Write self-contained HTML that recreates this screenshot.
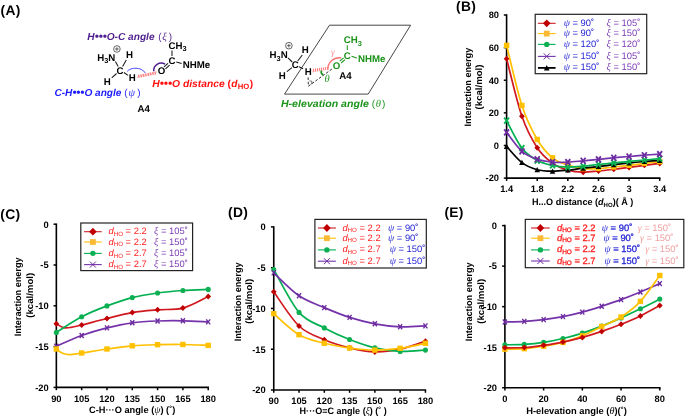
<!DOCTYPE html>
<html><head><meta charset="utf-8"><title>Figure</title>
<style>html,body{margin:0;padding:0;background:#fff}svg{display:block}</style>
</head><body>
<svg width="685" height="418" viewBox="0 0 685 418" text-rendering="geometricPrecision" font-family='"Liberation Sans", Arial, sans-serif' font-weight="bold" font-style="normal" fill="#000">
<rect width="685" height="418" fill="#fff"/>
<text x="0.6" y="14.6" font-size="13.8" letter-spacing="0.3">(A)</text>
<text x="456" y="10.7" font-size="13.8" letter-spacing="0.3">(B)</text>
<text x="0.3" y="219.4" font-size="13.8" letter-spacing="0.3">(C)</text>
<text x="228" y="216.5" font-size="13.8" letter-spacing="0.3">(D)</text>
<text x="444.4" y="216.5" font-size="13.8" letter-spacing="0.3">(E)</text>
<text x="87.3" y="39.8" font-size="10.2" font-style="italic" fill="#4f1f8f" textLength="67.3" lengthAdjust="spacingAndGlyphs">H<tspan font-size="11.5">•••</tspan>O-C angle</text>
<text x="158.3" y="39.8" font-size="10" font-weight="normal" fill="#4f1f8f">(<tspan font-size="10.5" font-style="italic" font-family='"Liberation Serif", "Times New Roman", serif' x="162.3">ξ</tspan><tspan x="168.7">)</tspan></text>
<text x="97.2" y="60.8" font-size="9.7">H<tspan font-size="7.3" dy="2.5">3</tspan><tspan dy="-2.5">N</tspan></text>
<circle cx="116.9" cy="49.0" r="3.3" fill="none" stroke="#222" stroke-width="0.7"/>
<path d="M115.1 49H118.7M116.9 47.2V50.8" stroke="#222" stroke-width="0.7"/>
<text x="126" y="58.3" font-size="9.7">H</text>
<text x="116.6" y="73.8" font-size="9.7">C</text>
<text x="103.7" y="84.7" font-size="9.7">H</text>
<text x="128.8" y="80.6" font-size="9.7">H</text>
<line x1="115.4" y1="61.6" x2="118.2" y2="66.5" stroke="#1a1a1a" stroke-width="1.05" />
<line x1="122.6" y1="66.5" x2="126.3" y2="60" stroke="#1a1a1a" stroke-width="1.05" />
<line x1="116.6" y1="73.5" x2="111.7" y2="77.8" stroke="#1a1a1a" stroke-width="1.05" />
<line x1="123.9" y1="72.5" x2="128" y2="75.4" stroke="#1a1a1a" stroke-width="1.05" />
<path d="M127.2 71.4 C130.5 67.2 141.5 66.6 145.3 73" fill="none" stroke="#3a3aff" stroke-width="0.9"/>
<path d="M137.95 78L138.65 74.8M139.68 77.66L140.38 74.46M141.41 77.32L142.11 74.12M143.14 76.98L143.84 73.78M144.87 76.64L145.57 73.44M146.6 76.3L147.3 73.1M148.33 75.96L149.03 72.76M150.06 75.62L150.76 72.42M151.79 75.28L152.49 72.08M153.52 74.94L154.22 71.74M155.25 74.6L155.95 71.4" stroke="#ff5a5a" stroke-width="0.85" fill="none"/>
<path d="M153.7 71.2 C153.2 65.2 159.5 61.2 165.1 64.2" fill="none" stroke="#4f1f8f" stroke-width="1.5"/>
<text x="157.7" y="74.1" font-size="9.7">O</text>
<text x="168.5" y="64.3" font-size="9.7">C</text>
<text x="168.4" y="48.9" font-size="9.7">CH<tspan font-size="7.3" dy="2.4">3</tspan></text>
<text x="182.7" y="67.7" font-size="9.7">NHMe</text>
<line x1="164" y1="66.9" x2="168" y2="63.4" stroke="#1a1a1a" stroke-width="1.05" />
<line x1="165.5" y1="68.8" x2="169.6" y2="65.2" stroke="#1a1a1a" stroke-width="1.05" />
<line x1="172" y1="50.5" x2="172" y2="56" stroke="#1a1a1a" stroke-width="1.05" />
<line x1="176.3" y1="61.9" x2="181.6" y2="63.6" stroke="#1a1a1a" stroke-width="1.05" />
<text x="152.3" y="86.8" font-size="10.2" font-style="italic" fill="#ff1010" textLength="72.5" lengthAdjust="spacingAndGlyphs">H<tspan font-size="11.5">•••</tspan>O distance</text>
<text x="227.5" y="86.8" font-size="10.2" font-style="italic" fill="#ff1010"><tspan font-style="normal">(</tspan><tspan x="231.2">d</tspan><tspan font-size="7.7" font-style="normal" dy="2.1" x="237.7">HO</tspan><tspan font-style="normal" dy="-2.1" x="249.8">)</tspan></text>
<text x="54.4" y="95.8" font-size="10.2" font-style="italic" fill="#1c1cff" textLength="67.1" lengthAdjust="spacingAndGlyphs">C-H<tspan font-size="11.5">•••</tspan>O angle</text>
<text x="124.2" y="95.8" font-size="10" font-weight="normal" fill="#1c1cff">(<tspan font-size="10.5" font-style="italic" font-family='"Liberation Serif", "Times New Roman", serif' x="128.6">ψ</tspan><tspan x="137.3">)</tspan></text>
<text x="137.5" y="111.5" font-size="9.7">A4</text>
<path d="M329.5 25.2H410.6L368.2 94.1H284.5Z" fill="none" stroke="#333" stroke-width="0.9"/>
<text x="269.6" y="58.1" font-size="9.7">H<tspan font-size="7.3" dy="2.5">3</tspan><tspan dy="-2.5">N</tspan></text>
<circle cx="288.9" cy="45.7" r="3.3" fill="none" stroke="#222" stroke-width="0.7"/>
<path d="M287.1 45.7H290.7M288.9 43.9V47.5" stroke="#222" stroke-width="0.7"/>
<text x="301.8" y="52.5" font-size="9.7">H</text>
<text x="291.7" y="68.3" font-size="9.7">C</text>
<text x="278.7" y="78.9" font-size="9.7">H</text>
<text x="304.7" y="74.8" font-size="9.7">H</text>
<line x1="288" y1="57.9" x2="292.2" y2="62" stroke="#1a1a1a" stroke-width="1.05" />
<line x1="297.7" y1="61" x2="302.3" y2="55" stroke="#1a1a1a" stroke-width="1.05" />
<line x1="292" y1="67.6" x2="286.8" y2="71.7" stroke="#1a1a1a" stroke-width="1.05" />
<line x1="299" y1="66.8" x2="303.1" y2="68.8" stroke="#1a1a1a" stroke-width="1.05" />
<path d="M313.05 72.3L313.75 68.7M315.06 71.94L315.76 68.43M317.08 71.59L317.78 68.16M319.09 71.23L319.79 67.89M321.11 70.87L321.81 67.61M323.12 70.51L323.82 67.34M325.14 70.16L325.84 67.07M327.15 69.8L327.85 66.8" stroke="#ff5a5a" stroke-width="0.85" fill="none"/>
<path d="M308.1 77.4L308.4 86.2L332.5 68.6" fill="none" stroke="#222" stroke-width="0.95" stroke-dasharray="2.6 1.8"/>
<path d="M309.4 80.8L312 81.4L311.4 84.3" fill="none" stroke="#222" stroke-width="0.6"/>
<path d="M327.8 69.8 C327.6 62.5 333.5 56.8 341.2 57.8" fill="none" stroke="#ff7575" stroke-width="1.4"/>
<text x="331" y="54.6" font-size="9.2" font-weight="normal"><tspan fill="#ff8c8c" font-size="9.2" font-weight="normal" font-style="italic" font-family='"Liberation Serif", "Times New Roman", serif'>γ</tspan></text>
<path d="M321.6 70.6 Q320.2 73 323.2 75" fill="none" stroke="#1a931a" stroke-width="1.6"/>
<text x="324.4" y="82.4" font-size="10.5" font-weight="normal"><tspan fill="#1a931a" font-size="10.5" font-weight="normal" font-style="italic" font-family='"Liberation Serif", "Times New Roman", serif'>θ</tspan></text>
<text x="332.7" y="68.5" font-size="9.7" fill="#1a931a">O</text>
<text x="343.7" y="58.5" font-size="9.7" fill="#1a931a">C</text>
<text x="343.7" y="43.1" font-size="9.7" fill="#1a931a">CH<tspan font-size="7.3" dy="2.4">3</tspan></text>
<text x="358" y="62" font-size="9.7" fill="#1a931a">NHMe</text>
<line x1="339.8" y1="61.2" x2="343.6" y2="57.9" stroke="#1a931a" stroke-width="1.05" />
<line x1="341.2" y1="63" x2="345" y2="59.7" stroke="#1a931a" stroke-width="1.05" />
<line x1="347.3" y1="45.2" x2="347.3" y2="50.1" stroke="#1a931a" stroke-width="1.05" />
<line x1="351.5" y1="56.2" x2="356.8" y2="58" stroke="#1a931a" stroke-width="1.05" />
<text x="339.2" y="78.5" font-size="9.7">A4</text>
<text x="280.9" y="107" font-size="10.2" font-style="italic" fill="#1a931a" textLength="88" lengthAdjust="spacingAndGlyphs">H-elevation angle</text>
<text x="371.8" y="107" font-size="10" font-weight="normal" fill="#1a931a">(<tspan font-size="10.5" font-style="italic" font-family='"Liberation Serif", "Times New Roman", serif' x="375.8">θ</tspan><tspan x="381.9">)</tspan></text>
<path d="M506.6 14.25V178.1 H660.45" fill="none" stroke="#000" stroke-width="1.6" stroke-linejoin="miter"/>
<line x1="506.6" y1="178.1" x2="506.6" y2="180.9" stroke="#000" stroke-width="1.5" />
<text x="506.6" y="191.9" font-size="9.3" text-anchor="middle">1.4</text>
<line x1="537.22" y1="178.1" x2="537.22" y2="180.9" stroke="#000" stroke-width="1.5" />
<text x="537.22" y="191.9" font-size="9.3" text-anchor="middle">1.8</text>
<line x1="567.84" y1="178.1" x2="567.84" y2="180.9" stroke="#000" stroke-width="1.5" />
<text x="567.84" y="191.9" font-size="9.3" text-anchor="middle">2.2</text>
<line x1="598.46" y1="178.1" x2="598.46" y2="180.9" stroke="#000" stroke-width="1.5" />
<text x="598.46" y="191.9" font-size="9.3" text-anchor="middle">2.6</text>
<line x1="629.08" y1="178.1" x2="629.08" y2="180.9" stroke="#000" stroke-width="1.5" />
<text x="629.08" y="191.9" font-size="9.3" text-anchor="middle">3</text>
<line x1="659.7" y1="178.1" x2="659.7" y2="180.9" stroke="#000" stroke-width="1.5" />
<text x="659.7" y="191.9" font-size="9.3" text-anchor="middle">3.4</text>
<line x1="503.8" y1="15" x2="506.6" y2="15" stroke="#000" stroke-width="1.5" />
<text x="499" y="18.33" font-size="9.3" text-anchor="end">80</text>
<line x1="503.8" y1="47.62" x2="506.6" y2="47.62" stroke="#000" stroke-width="1.5" />
<text x="499" y="50.95" font-size="9.3" text-anchor="end">60</text>
<line x1="503.8" y1="80.24" x2="506.6" y2="80.24" stroke="#000" stroke-width="1.5" />
<text x="499" y="83.57" font-size="9.3" text-anchor="end">40</text>
<line x1="503.8" y1="112.86" x2="506.6" y2="112.86" stroke="#000" stroke-width="1.5" />
<text x="499" y="116.19" font-size="9.3" text-anchor="end">20</text>
<line x1="503.8" y1="145.48" x2="506.6" y2="145.48" stroke="#000" stroke-width="1.5" />
<text x="499" y="148.81" font-size="9.3" text-anchor="end">0</text>
<line x1="503.8" y1="178.1" x2="506.6" y2="178.1" stroke="#000" stroke-width="1.5" />
<text x="499" y="181.43" font-size="9.3" text-anchor="end">-20</text>
<text x="-39.4" y="0" font-size="9.3" transform="translate(470.5 87.2) rotate(-90)" textLength="78.8" lengthAdjust="spacingAndGlyphs">Interaction energy</text>
<text x="-22.4" y="0" font-size="9.3" transform="translate(482 87) rotate(-90)" textLength="44.8" lengthAdjust="spacingAndGlyphs">(kcal/mol)</text>
<text x="532" y="204.9" font-size="9.3" textLength="101.3" lengthAdjust="spacingAndGlyphs">H...O distance (<tspan font-style="italic">d</tspan><tspan font-size="6.2" dy="1.9">HO</tspan><tspan dy="-1.9">)(</tspan> Å )</text>
<path d="M506.6 58.8C509.15 68.38 516.81 101.48 521.91 116.3C527.01 131.12 532.12 139.88 537.22 147.7C542.32 155.52 547.43 159.47 552.53 163.2C557.63 166.93 562.74 168.6 567.84 170.1C572.94 171.6 578.05 172.05 583.15 172.2C588.25 172.35 593.36 171.48 598.46 171C603.56 170.52 608.67 169.9 613.77 169.3C618.87 168.7 623.98 168.07 629.08 167.4C634.18 166.73 639.29 165.97 644.39 165.3C649.49 164.63 657.15 163.72 659.7 163.4" fill="none" stroke="#d01a20" stroke-width="1.7" stroke-linejoin="round" stroke-linecap="round"/>
<path d="M506.6 55.8L509.5 58.8L506.6 61.8L503.7 58.8Z" fill="#c00000"/>
<path d="M521.91 113.3L524.81 116.3L521.91 119.3L519.01 116.3Z" fill="#c00000"/>
<path d="M537.22 144.7L540.12 147.7L537.22 150.7L534.32 147.7Z" fill="#c00000"/>
<path d="M552.53 160.2L555.43 163.2L552.53 166.2L549.63 163.2Z" fill="#c00000"/>
<path d="M567.84 167.1L570.74 170.1L567.84 173.1L564.94 170.1Z" fill="#c00000"/>
<path d="M583.15 169.2L586.05 172.2L583.15 175.2L580.25 172.2Z" fill="#c00000"/>
<path d="M598.46 168L601.36 171L598.46 174L595.56 171Z" fill="#c00000"/>
<path d="M613.77 166.3L616.67 169.3L613.77 172.3L610.87 169.3Z" fill="#c00000"/>
<path d="M629.08 164.4L631.98 167.4L629.08 170.4L626.18 167.4Z" fill="#c00000"/>
<path d="M644.39 162.3L647.29 165.3L644.39 168.3L641.49 165.3Z" fill="#c00000"/>
<path d="M659.7 160.4L662.6 163.4L659.7 166.4L656.8 163.4Z" fill="#c00000"/>
<path d="M506.6 45.4C509.15 55.42 516.81 89.82 521.91 105.5C527.01 121.18 532.12 130.78 537.22 139.5C542.32 148.22 547.43 153.55 552.53 157.8C557.63 162.05 562.74 163.2 567.84 165C572.94 166.8 578.05 168.02 583.15 168.6C588.25 169.18 593.36 168.77 598.46 168.5C603.56 168.23 608.67 167.53 613.77 167C618.87 166.47 623.98 165.9 629.08 165.3C634.18 164.7 639.29 164.02 644.39 163.4C649.49 162.78 657.15 161.9 659.7 161.6" fill="none" stroke="#ffc000" stroke-width="1.7" stroke-linejoin="round" stroke-linecap="round"/>
<rect x="503.9" y="42.7" width="5.4" height="5.4" fill="#ffc000"/>
<rect x="519.21" y="102.8" width="5.4" height="5.4" fill="#ffc000"/>
<rect x="534.52" y="136.8" width="5.4" height="5.4" fill="#ffc000"/>
<rect x="549.83" y="155.1" width="5.4" height="5.4" fill="#ffc000"/>
<rect x="565.14" y="162.3" width="5.4" height="5.4" fill="#ffc000"/>
<rect x="580.45" y="165.9" width="5.4" height="5.4" fill="#ffc000"/>
<rect x="595.76" y="165.8" width="5.4" height="5.4" fill="#ffc000"/>
<rect x="611.07" y="164.3" width="5.4" height="5.4" fill="#ffc000"/>
<rect x="626.38" y="162.6" width="5.4" height="5.4" fill="#ffc000"/>
<rect x="641.69" y="160.7" width="5.4" height="5.4" fill="#ffc000"/>
<rect x="657" y="158.9" width="5.4" height="5.4" fill="#ffc000"/>
<path d="M506.6 146.4C509.15 149.1 516.81 158.72 521.91 162.6C527.01 166.48 532.12 168.27 537.22 169.7C542.32 171.13 547.43 171.13 552.53 171.2C557.63 171.27 562.74 170.6 567.84 170.1C572.94 169.6 578.05 168.78 583.15 168.2C588.25 167.62 593.36 167.18 598.46 166.6C603.56 166.02 608.67 165.3 613.77 164.7C618.87 164.1 623.98 163.53 629.08 163C634.18 162.47 639.29 161.92 644.39 161.5C649.49 161.08 657.15 160.67 659.7 160.5" fill="none" stroke="#000000" stroke-width="1.7" stroke-linejoin="round" stroke-linecap="round"/>
<path d="M506.6 143.6L509.4 148.92L503.8 148.92Z" fill="#000000"/>
<path d="M521.91 159.8L524.71 165.12L519.11 165.12Z" fill="#000000"/>
<path d="M537.22 166.9L540.02 172.22L534.42 172.22Z" fill="#000000"/>
<path d="M552.53 168.4L555.33 173.72L549.73 173.72Z" fill="#000000"/>
<path d="M567.84 167.3L570.64 172.62L565.04 172.62Z" fill="#000000"/>
<path d="M583.15 165.4L585.95 170.72L580.35 170.72Z" fill="#000000"/>
<path d="M598.46 163.8L601.26 169.12L595.66 169.12Z" fill="#000000"/>
<path d="M613.77 161.9L616.57 167.22L610.97 167.22Z" fill="#000000"/>
<path d="M629.08 160.2L631.88 165.52L626.28 165.52Z" fill="#000000"/>
<path d="M644.39 158.7L647.19 164.02L641.59 164.02Z" fill="#000000"/>
<path d="M659.7 157.7L662.5 163.02L656.9 163.02Z" fill="#000000"/>
<path d="M506.6 120.6C509.15 125.18 516.81 141.43 521.91 148.1C527.01 154.77 532.12 157.72 537.22 160.6C542.32 163.48 547.43 164.32 552.53 165.4C557.63 166.48 562.74 166.97 567.84 167.1C572.94 167.23 578.05 166.63 583.15 166.2C588.25 165.77 593.36 165.05 598.46 164.5C603.56 163.95 608.67 163.43 613.77 162.9C618.87 162.37 623.98 161.78 629.08 161.3C634.18 160.82 639.29 160.45 644.39 160C649.49 159.55 657.15 158.83 659.7 158.6" fill="none" stroke="#00b050" stroke-width="1.7" stroke-linejoin="round" stroke-linecap="round"/>
<path d="M504.2 117.6L509 123.6M504.2 123.6L509 117.6" stroke="#0cb052" stroke-width="1.8" fill="none"/>
<path d="M519.51 145.1L524.31 151.1M519.51 151.1L524.31 145.1" stroke="#0cb052" stroke-width="1.8" fill="none"/>
<path d="M534.82 157.6L539.62 163.6M534.82 163.6L539.62 157.6" stroke="#0cb052" stroke-width="1.8" fill="none"/>
<path d="M550.13 162.4L554.93 168.4M550.13 168.4L554.93 162.4" stroke="#0cb052" stroke-width="1.8" fill="none"/>
<path d="M565.44 164.1L570.24 170.1M565.44 170.1L570.24 164.1" stroke="#0cb052" stroke-width="1.8" fill="none"/>
<path d="M580.75 163.2L585.55 169.2M580.75 169.2L585.55 163.2" stroke="#0cb052" stroke-width="1.8" fill="none"/>
<path d="M596.06 161.5L600.86 167.5M596.06 167.5L600.86 161.5" stroke="#0cb052" stroke-width="1.8" fill="none"/>
<path d="M611.37 159.9L616.17 165.9M611.37 165.9L616.17 159.9" stroke="#0cb052" stroke-width="1.8" fill="none"/>
<path d="M626.68 158.3L631.48 164.3M626.68 164.3L631.48 158.3" stroke="#0cb052" stroke-width="1.8" fill="none"/>
<path d="M641.99 157L646.79 163M641.99 163L646.79 157" stroke="#0cb052" stroke-width="1.8" fill="none"/>
<path d="M657.3 155.6L662.1 161.6M657.3 161.6L662.1 155.6" stroke="#0cb052" stroke-width="1.8" fill="none"/>
<path d="M506.6 132.4C509.15 135.57 516.81 146.92 521.91 151.4C527.01 155.88 532.12 157.52 537.22 159.3C542.32 161.08 547.43 161.63 552.53 162.1C557.63 162.57 562.74 162.32 567.84 162.1C572.94 161.88 578.05 161.25 583.15 160.8C588.25 160.35 593.36 159.9 598.46 159.4C603.56 158.9 608.67 158.28 613.77 157.8C618.87 157.32 623.98 156.93 629.08 156.5C634.18 156.07 639.29 155.6 644.39 155.2C649.49 154.8 657.15 154.28 659.7 154.1" fill="none" stroke="#7533ab" stroke-width="1.7" stroke-linejoin="round" stroke-linecap="round"/>
<path d="M504.2 129.4L509 135.4M504.2 135.4L509 129.4" stroke="#6c2ca0" stroke-width="1.8" fill="none"/>
<path d="M519.51 148.4L524.31 154.4M519.51 154.4L524.31 148.4" stroke="#6c2ca0" stroke-width="1.8" fill="none"/>
<path d="M534.82 156.3L539.62 162.3M534.82 162.3L539.62 156.3" stroke="#6c2ca0" stroke-width="1.8" fill="none"/>
<path d="M550.13 159.1L554.93 165.1M550.13 165.1L554.93 159.1" stroke="#6c2ca0" stroke-width="1.8" fill="none"/>
<path d="M565.44 159.1L570.24 165.1M565.44 165.1L570.24 159.1" stroke="#6c2ca0" stroke-width="1.8" fill="none"/>
<path d="M580.75 157.8L585.55 163.8M580.75 163.8L585.55 157.8" stroke="#6c2ca0" stroke-width="1.8" fill="none"/>
<path d="M596.06 156.4L600.86 162.4M596.06 162.4L600.86 156.4" stroke="#6c2ca0" stroke-width="1.8" fill="none"/>
<path d="M611.37 154.8L616.17 160.8M611.37 160.8L616.17 154.8" stroke="#6c2ca0" stroke-width="1.8" fill="none"/>
<path d="M626.68 153.5L631.48 159.5M626.68 159.5L631.48 153.5" stroke="#6c2ca0" stroke-width="1.8" fill="none"/>
<path d="M641.99 152.2L646.79 158.2M641.99 158.2L646.79 152.2" stroke="#6c2ca0" stroke-width="1.8" fill="none"/>
<path d="M657.3 151.1L662.1 157.1M657.3 157.1L662.1 151.1" stroke="#6c2ca0" stroke-width="1.8" fill="none"/>
<rect x="535.2" y="14.3" width="111.5" height="59.4" fill="#fff" stroke="#222" stroke-width="1.2"/>
<line x1="537.9" y1="23.3" x2="555.6" y2="23.3" stroke="#d01a20" stroke-width="1.1" />
<path d="M546.75 19.4L550.55 23.3L546.75 27.2L542.95 23.3Z" fill="#c00000"/>
<text x="563.7" y="25.8" font-size="9.4" font-weight="normal" fill="#2323d6"><tspan fill="#2323d6" font-size="10" font-weight="normal" font-style="italic" font-family='"Liberation Serif", "Times New Roman", serif'>ψ</tspan> = 90<tspan font-weight="bold">˚</tspan></text>
<text x="606.5" y="25.8" font-size="9.4" font-weight="normal" fill="#7d3cb5"><tspan fill="#7d3cb5" font-size="10" font-weight="normal" font-style="italic" font-family='"Liberation Serif", "Times New Roman", serif'>ξ</tspan> = 105<tspan font-weight="bold">˚</tspan></text>
<line x1="537.9" y1="33.6" x2="555.6" y2="33.6" stroke="#ffc000" stroke-width="1.1" />
<rect x="543.85" y="30.7" width="5.8" height="5.8" fill="#fbba35"/>
<text x="563.7" y="36.1" font-size="9.4" font-weight="normal" fill="#2323d6"><tspan fill="#2323d6" font-size="10" font-weight="normal" font-style="italic" font-family='"Liberation Serif", "Times New Roman", serif'>ψ</tspan> = 90<tspan font-weight="bold">˚</tspan></text>
<text x="606.5" y="36.1" font-size="9.4" font-weight="normal" fill="#7d3cb5"><tspan fill="#7d3cb5" font-size="10" font-weight="normal" font-style="italic" font-family='"Liberation Serif", "Times New Roman", serif'>ξ</tspan> = 150<tspan font-weight="bold">˚</tspan></text>
<line x1="537.9" y1="44.4" x2="555.6" y2="44.4" stroke="#00b050" stroke-width="1.1" />
<circle cx="546.75" cy="44.4" r="2.7" fill="#0cb052"/>
<text x="563.7" y="46.9" font-size="9.4" font-weight="normal" fill="#2323d6"><tspan fill="#2323d6" font-size="10" font-weight="normal" font-style="italic" font-family='"Liberation Serif", "Times New Roman", serif'>ψ</tspan> = 120<tspan font-weight="bold">˚</tspan></text>
<text x="606.5" y="46.9" font-size="9.4" font-weight="normal" fill="#7d3cb5"><tspan fill="#7d3cb5" font-size="10" font-weight="normal" font-style="italic" font-family='"Liberation Serif", "Times New Roman", serif'>ξ</tspan> = 120<tspan font-weight="bold">˚</tspan></text>
<line x1="537.9" y1="56.4" x2="555.6" y2="56.4" stroke="#7533ab" stroke-width="1.1" />
<path d="M543.75 53.4L549.75 59.4M543.75 59.4L549.75 53.4" stroke="#6c2ca0" stroke-width="1" fill="none"/>
<text x="563.7" y="58.9" font-size="9.4" font-weight="normal" fill="#2323d6"><tspan fill="#2323d6" font-size="10" font-weight="normal" font-style="italic" font-family='"Liberation Serif", "Times New Roman", serif'>ψ</tspan> = 150<tspan font-weight="bold">˚</tspan></text>
<text x="606.5" y="58.9" font-size="9.4" font-weight="normal" fill="#7d3cb5"><tspan fill="#7d3cb5" font-size="10" font-weight="normal" font-style="italic" font-family='"Liberation Serif", "Times New Roman", serif'>ξ</tspan> = 105<tspan font-weight="bold">˚</tspan></text>
<line x1="537.9" y1="67.9" x2="555.6" y2="67.9" stroke="#000000" stroke-width="1.8" />
<path d="M546.75 65.1L549.55 70.42L543.95 70.42Z" fill="#000000"/>
<text x="563.7" y="70.4" font-size="9.4" font-weight="normal" fill="#2323d6"><tspan fill="#2323d6" font-size="10" font-weight="normal" font-style="italic" font-family='"Liberation Serif", "Times New Roman", serif'>ψ</tspan> = 150<tspan font-weight="bold">˚</tspan></text>
<text x="606.5" y="70.4" font-size="9.4" font-weight="normal" fill="#7d3cb5"><tspan fill="#7d3cb5" font-size="10" font-weight="normal" font-style="italic" font-family='"Liberation Serif", "Times New Roman", serif'>ξ</tspan> = 150<tspan font-weight="bold">˚</tspan></text>
<path d="M56.35 223.45V387.4 H208.95" fill="none" stroke="#000" stroke-width="1.6" stroke-linejoin="miter"/>
<line x1="56.35" y1="387.4" x2="56.35" y2="390.2" stroke="#000" stroke-width="1.5" />
<text x="56.35" y="401.6" font-size="9.3" text-anchor="middle">90</text>
<line x1="81.66" y1="387.4" x2="81.66" y2="390.2" stroke="#000" stroke-width="1.5" />
<text x="81.66" y="401.6" font-size="9.3" text-anchor="middle">105</text>
<line x1="106.97" y1="387.4" x2="106.97" y2="390.2" stroke="#000" stroke-width="1.5" />
<text x="106.97" y="401.6" font-size="9.3" text-anchor="middle">120</text>
<line x1="132.28" y1="387.4" x2="132.28" y2="390.2" stroke="#000" stroke-width="1.5" />
<text x="132.28" y="401.6" font-size="9.3" text-anchor="middle">135</text>
<line x1="157.59" y1="387.4" x2="157.59" y2="390.2" stroke="#000" stroke-width="1.5" />
<text x="157.59" y="401.6" font-size="9.3" text-anchor="middle">150</text>
<line x1="182.9" y1="387.4" x2="182.9" y2="390.2" stroke="#000" stroke-width="1.5" />
<text x="182.9" y="401.6" font-size="9.3" text-anchor="middle">165</text>
<line x1="208.21" y1="387.4" x2="208.21" y2="390.2" stroke="#000" stroke-width="1.5" />
<text x="208.21" y="401.6" font-size="9.3" text-anchor="middle">180</text>
<line x1="53.55" y1="224.2" x2="56.35" y2="224.2" stroke="#000" stroke-width="1.5" />
<text x="48.6" y="227.53" font-size="9.3" text-anchor="end">0</text>
<line x1="53.55" y1="265" x2="56.35" y2="265" stroke="#000" stroke-width="1.5" />
<text x="48.6" y="268.33" font-size="9.3" text-anchor="end">-5</text>
<line x1="53.55" y1="305.8" x2="56.35" y2="305.8" stroke="#000" stroke-width="1.5" />
<text x="48.6" y="309.13" font-size="9.3" text-anchor="end">-10</text>
<line x1="53.55" y1="346.6" x2="56.35" y2="346.6" stroke="#000" stroke-width="1.5" />
<text x="48.6" y="349.93" font-size="9.3" text-anchor="end">-15</text>
<line x1="53.55" y1="387.4" x2="56.35" y2="387.4" stroke="#000" stroke-width="1.5" />
<text x="48.6" y="390.73" font-size="9.3" text-anchor="end">-20</text>
<text x="-39.4" y="0" font-size="9.3" transform="translate(20.5 296.9) rotate(-90)" textLength="78.8" lengthAdjust="spacingAndGlyphs">Interaction energy</text>
<text x="-22.4" y="0" font-size="9.3" transform="translate(32.5 295.3) rotate(-90)" textLength="44.8" lengthAdjust="spacingAndGlyphs">(kcal/mol)</text>
<text x="89" y="412.8" font-size="9.3" textLength="86.3" lengthAdjust="spacingAndGlyphs">C-H···O angle (<tspan fill="#000" font-size="10" font-weight="normal" font-style="italic" font-family='"Liberation Serif", "Times New Roman", serif'>ψ</tspan>) (˚)</text>
<path d="M56.35 323.8C57.54 324.43 61.06 327 63.5 327.6C65.94 328.2 67.97 327.83 71 327.4C74.03 326.97 75.66 326.48 81.66 325C87.66 323.52 98.53 320.57 106.97 318.5C115.41 316.43 123.84 314.05 132.28 312.6C140.72 311.15 149.15 310.55 157.59 309.8C166.03 309.05 174.46 310.32 182.9 308.1C191.34 305.88 203.99 298.43 208.21 296.5" fill="none" stroke="#d01a20" stroke-width="1.7" stroke-linejoin="round" stroke-linecap="round"/>
<path d="M56.35 320.8L59.25 323.8L56.35 326.8L53.45 323.8Z" fill="#c00000"/>
<path d="M81.66 322L84.56 325L81.66 328L78.76 325Z" fill="#c00000"/>
<path d="M106.97 315.5L109.87 318.5L106.97 321.5L104.07 318.5Z" fill="#c00000"/>
<path d="M132.28 309.6L135.18 312.6L132.28 315.6L129.38 312.6Z" fill="#c00000"/>
<path d="M157.59 306.8L160.49 309.8L157.59 312.8L154.69 309.8Z" fill="#c00000"/>
<path d="M182.9 305.1L185.8 308.1L182.9 311.1L180 308.1Z" fill="#c00000"/>
<path d="M208.21 293.5L211.11 296.5L208.21 299.5L205.31 296.5Z" fill="#c00000"/>
<path d="M56.35 332.4C60.57 329.8 73.22 321.22 81.66 316.8C90.1 312.38 98.53 309.1 106.97 305.9C115.41 302.7 123.84 299.75 132.28 297.6C140.72 295.45 149.15 294.18 157.59 293C166.03 291.82 174.46 291.1 182.9 290.5C191.34 289.9 203.99 289.58 208.21 289.4" fill="none" stroke="#00b050" stroke-width="1.7" stroke-linejoin="round" stroke-linecap="round"/>
<circle cx="56.35" cy="332.4" r="2.55" fill="#0cb052"/>
<circle cx="81.66" cy="316.8" r="2.55" fill="#0cb052"/>
<circle cx="106.97" cy="305.9" r="2.55" fill="#0cb052"/>
<circle cx="132.28" cy="297.6" r="2.55" fill="#0cb052"/>
<circle cx="157.59" cy="293" r="2.55" fill="#0cb052"/>
<circle cx="182.9" cy="290.5" r="2.55" fill="#0cb052"/>
<circle cx="208.21" cy="289.4" r="2.55" fill="#0cb052"/>
<path d="M56.35 346.2C60.57 344.42 73.22 338.55 81.66 335.5C90.1 332.45 98.53 330.02 106.97 327.9C115.41 325.78 123.84 323.95 132.28 322.8C140.72 321.65 149.15 321.33 157.59 321C166.03 320.67 174.46 320.65 182.9 320.8C191.34 320.95 203.99 321.72 208.21 321.9" fill="none" stroke="#7533ab" stroke-width="1.7" stroke-linejoin="round" stroke-linecap="round"/>
<path d="M54.35 343.7L58.35 348.7M54.35 348.7L58.35 343.7" stroke="#6c2ca0" stroke-width="1.4" fill="none"/>
<path d="M79.66 333L83.66 338M79.66 338L83.66 333" stroke="#6c2ca0" stroke-width="1.4" fill="none"/>
<path d="M104.97 325.4L108.97 330.4M104.97 330.4L108.97 325.4" stroke="#6c2ca0" stroke-width="1.4" fill="none"/>
<path d="M130.28 320.3L134.28 325.3M130.28 325.3L134.28 320.3" stroke="#6c2ca0" stroke-width="1.4" fill="none"/>
<path d="M155.59 318.5L159.59 323.5M155.59 323.5L159.59 318.5" stroke="#6c2ca0" stroke-width="1.4" fill="none"/>
<path d="M180.9 318.3L184.9 323.3M180.9 323.3L184.9 318.3" stroke="#6c2ca0" stroke-width="1.4" fill="none"/>
<path d="M206.21 319.4L210.21 324.4M206.21 324.4L210.21 319.4" stroke="#6c2ca0" stroke-width="1.4" fill="none"/>
<path d="M56.35 349C57.38 349.72 60.23 352.37 62.5 353.3C64.78 354.23 66.81 354.65 70 354.6C73.19 354.55 75.5 353.93 81.66 353C87.82 352.07 98.53 350.2 106.97 349C115.41 347.8 123.84 346.52 132.28 345.8C140.72 345.08 149.15 344.92 157.59 344.7C166.03 344.48 174.46 344.38 182.9 344.5C191.34 344.62 203.99 345.25 208.21 345.4" fill="none" stroke="#ffc000" stroke-width="1.7" stroke-linejoin="round" stroke-linecap="round"/>
<rect x="53.65" y="346.3" width="5.4" height="5.4" fill="#ffc000"/>
<rect x="78.96" y="350.3" width="5.4" height="5.4" fill="#ffc000"/>
<rect x="104.27" y="346.3" width="5.4" height="5.4" fill="#ffc000"/>
<rect x="129.58" y="343.1" width="5.4" height="5.4" fill="#ffc000"/>
<rect x="154.89" y="342" width="5.4" height="5.4" fill="#ffc000"/>
<rect x="180.2" y="341.8" width="5.4" height="5.4" fill="#ffc000"/>
<rect x="205.51" y="342.7" width="5.4" height="5.4" fill="#ffc000"/>
<rect x="80.8" y="223" width="111.8" height="47.6" fill="#fff" stroke="#222" stroke-width="1.2"/>
<line x1="84.1" y1="231.7" x2="101.7" y2="231.7" stroke="#d01a20" stroke-width="1.1" />
<path d="M92.9 227.8L96.7 231.7L92.9 235.6L89.1 231.7Z" fill="#c00000"/>
<text x="108.5" y="234.2" font-size="9.4" font-weight="normal" fill="#ff2020"><tspan font-style="italic">d</tspan><tspan font-size="6.2" dy="1.6">HO</tspan><tspan dy="-1.6"> = 2.2</tspan></text>
<text x="154" y="234.2" font-size="9.4" font-weight="normal" fill="#7d3cb5"><tspan fill="#7d3cb5" font-size="10" font-weight="normal" font-style="italic" font-family='"Liberation Serif", "Times New Roman", serif'>ξ</tspan> = 105<tspan font-weight="bold">˚</tspan></text>
<line x1="84.1" y1="242" x2="101.7" y2="242" stroke="#ffc000" stroke-width="1.1" />
<rect x="90" y="239.1" width="5.8" height="5.8" fill="#fbba35"/>
<text x="108.5" y="244.5" font-size="9.4" font-weight="normal" fill="#ff2020"><tspan font-style="italic">d</tspan><tspan font-size="6.2" dy="1.6">HO</tspan><tspan dy="-1.6"> = 2.2</tspan></text>
<text x="154" y="244.5" font-size="9.4" font-weight="normal" fill="#7d3cb5"><tspan fill="#7d3cb5" font-size="10" font-weight="normal" font-style="italic" font-family='"Liberation Serif", "Times New Roman", serif'>ξ</tspan> = 150<tspan font-weight="bold">˚</tspan></text>
<line x1="84.1" y1="253.4" x2="101.7" y2="253.4" stroke="#00b050" stroke-width="1.1" />
<circle cx="92.9" cy="253.4" r="2.7" fill="#0cb052"/>
<text x="108.5" y="255.9" font-size="9.4" font-weight="normal" fill="#ff2020"><tspan font-style="italic">d</tspan><tspan font-size="6.2" dy="1.6">HO</tspan><tspan dy="-1.6"> = 2.7</tspan></text>
<text x="154" y="255.9" font-size="9.4" font-weight="normal" fill="#7d3cb5"><tspan fill="#7d3cb5" font-size="10" font-weight="normal" font-style="italic" font-family='"Liberation Serif", "Times New Roman", serif'>ξ</tspan> = 105<tspan font-weight="bold">˚</tspan></text>
<line x1="84.1" y1="264.6" x2="101.7" y2="264.6" stroke="#7533ab" stroke-width="1.1" />
<path d="M89.9 261.6L95.9 267.6M89.9 267.6L95.9 261.6" stroke="#6c2ca0" stroke-width="1" fill="none"/>
<text x="108.5" y="267.1" font-size="9.4" font-weight="normal" fill="#ff2020"><tspan font-style="italic">d</tspan><tspan font-size="6.2" dy="1.6">HO</tspan><tspan dy="-1.6"> = 2.7</tspan></text>
<text x="154" y="267.1" font-size="9.4" font-weight="normal" fill="#7d3cb5"><tspan fill="#7d3cb5" font-size="10" font-weight="normal" font-style="italic" font-family='"Liberation Serif", "Times New Roman", serif'>ξ</tspan> = 150<tspan font-weight="bold">˚</tspan></text>
<path d="M273.75 226.15V390 H426.15" fill="none" stroke="#000" stroke-width="1.6" stroke-linejoin="miter"/>
<line x1="273.75" y1="390" x2="273.75" y2="392.8" stroke="#000" stroke-width="1.5" />
<text x="273.75" y="403.6" font-size="9.3" text-anchor="middle">90</text>
<line x1="299.03" y1="390" x2="299.03" y2="392.8" stroke="#000" stroke-width="1.5" />
<text x="299.03" y="403.6" font-size="9.3" text-anchor="middle">105</text>
<line x1="324.31" y1="390" x2="324.31" y2="392.8" stroke="#000" stroke-width="1.5" />
<text x="324.31" y="403.6" font-size="9.3" text-anchor="middle">120</text>
<line x1="349.59" y1="390" x2="349.59" y2="392.8" stroke="#000" stroke-width="1.5" />
<text x="349.59" y="403.6" font-size="9.3" text-anchor="middle">135</text>
<line x1="374.87" y1="390" x2="374.87" y2="392.8" stroke="#000" stroke-width="1.5" />
<text x="374.87" y="403.6" font-size="9.3" text-anchor="middle">150</text>
<line x1="400.15" y1="390" x2="400.15" y2="392.8" stroke="#000" stroke-width="1.5" />
<text x="400.15" y="403.6" font-size="9.3" text-anchor="middle">165</text>
<line x1="425.43" y1="390" x2="425.43" y2="392.8" stroke="#000" stroke-width="1.5" />
<text x="425.43" y="403.6" font-size="9.3" text-anchor="middle">180</text>
<line x1="270.95" y1="226.9" x2="273.75" y2="226.9" stroke="#000" stroke-width="1.5" />
<text x="265.6" y="230.23" font-size="9.3" text-anchor="end">0</text>
<line x1="270.95" y1="267.68" x2="273.75" y2="267.68" stroke="#000" stroke-width="1.5" />
<text x="265.6" y="271" font-size="9.3" text-anchor="end">-5</text>
<line x1="270.95" y1="308.45" x2="273.75" y2="308.45" stroke="#000" stroke-width="1.5" />
<text x="265.6" y="311.78" font-size="9.3" text-anchor="end">-10</text>
<line x1="270.95" y1="349.23" x2="273.75" y2="349.23" stroke="#000" stroke-width="1.5" />
<text x="265.6" y="352.55" font-size="9.3" text-anchor="end">-15</text>
<line x1="270.95" y1="390" x2="273.75" y2="390" stroke="#000" stroke-width="1.5" />
<text x="265.6" y="393.33" font-size="9.3" text-anchor="end">-20</text>
<text x="-39.4" y="0" font-size="9.3" transform="translate(240.5 301.9) rotate(-90)" textLength="78.8" lengthAdjust="spacingAndGlyphs">Interaction energy</text>
<text x="-22.4" y="0" font-size="9.3" transform="translate(252 301.3) rotate(-90)" textLength="44.8" lengthAdjust="spacingAndGlyphs">(kcal/mol)</text>
<text x="299.6" y="413.9" font-size="9.3" textLength="87.3" lengthAdjust="spacingAndGlyphs">H···O=C angle (<tspan fill="#000" font-size="10" font-weight="normal" font-style="italic" font-family='"Liberation Serif", "Times New Roman", serif'>ξ</tspan>) (˚ )</text>
<path d="M273.75 291.8C277.96 297.5 290.6 318.02 299.03 326C307.46 333.98 315.88 336.07 324.31 339.7C332.74 343.33 341.16 345.77 349.59 347.8C358.02 349.83 366.44 351.67 374.87 351.9C383.3 352.13 391.72 350.98 400.15 349.2C408.58 347.42 421.22 342.53 425.43 341.2" fill="none" stroke="#d01a20" stroke-width="1.7" stroke-linejoin="round" stroke-linecap="round"/>
<path d="M273.75 288.8L276.65 291.8L273.75 294.8L270.85 291.8Z" fill="#c00000"/>
<path d="M299.03 323L301.93 326L299.03 329L296.13 326Z" fill="#c00000"/>
<path d="M324.31 336.7L327.21 339.7L324.31 342.7L321.41 339.7Z" fill="#c00000"/>
<path d="M349.59 344.8L352.49 347.8L349.59 350.8L346.69 347.8Z" fill="#c00000"/>
<path d="M374.87 348.9L377.77 351.9L374.87 354.9L371.97 351.9Z" fill="#c00000"/>
<path d="M400.15 346.2L403.05 349.2L400.15 352.2L397.25 349.2Z" fill="#c00000"/>
<path d="M425.43 338.2L428.33 341.2L425.43 344.2L422.53 341.2Z" fill="#c00000"/>
<path d="M273.75 269.5C277.96 276.65 290.6 302.67 299.03 312.4C307.46 322.13 315.88 323.38 324.31 327.9C332.74 332.42 341.16 336.18 349.59 339.5C358.02 342.82 366.44 345.82 374.87 347.8C383.3 349.78 391.72 351.02 400.15 351.4C408.58 351.78 421.22 350.32 425.43 350.1" fill="none" stroke="#00b050" stroke-width="1.7" stroke-linejoin="round" stroke-linecap="round"/>
<circle cx="273.75" cy="269.5" r="2.55" fill="#0cb052"/>
<circle cx="299.03" cy="312.4" r="2.55" fill="#0cb052"/>
<circle cx="324.31" cy="327.9" r="2.55" fill="#0cb052"/>
<circle cx="349.59" cy="339.5" r="2.55" fill="#0cb052"/>
<circle cx="374.87" cy="347.8" r="2.55" fill="#0cb052"/>
<circle cx="400.15" cy="351.4" r="2.55" fill="#0cb052"/>
<circle cx="425.43" cy="350.1" r="2.55" fill="#0cb052"/>
<path d="M273.75 272.9C277.96 276.72 290.6 290.02 299.03 295.8C307.46 301.58 315.88 304 324.31 307.6C332.74 311.2 341.16 314.7 349.59 317.4C358.02 320.1 366.44 322.23 374.87 323.8C383.3 325.37 391.72 326.45 400.15 326.8C408.58 327.15 421.22 326.05 425.43 325.9" fill="none" stroke="#7533ab" stroke-width="1.7" stroke-linejoin="round" stroke-linecap="round"/>
<path d="M271.75 270.4L275.75 275.4M271.75 275.4L275.75 270.4" stroke="#6c2ca0" stroke-width="1.4" fill="none"/>
<path d="M297.03 293.3L301.03 298.3M297.03 298.3L301.03 293.3" stroke="#6c2ca0" stroke-width="1.4" fill="none"/>
<path d="M322.31 305.1L326.31 310.1M322.31 310.1L326.31 305.1" stroke="#6c2ca0" stroke-width="1.4" fill="none"/>
<path d="M347.59 314.9L351.59 319.9M347.59 319.9L351.59 314.9" stroke="#6c2ca0" stroke-width="1.4" fill="none"/>
<path d="M372.87 321.3L376.87 326.3M372.87 326.3L376.87 321.3" stroke="#6c2ca0" stroke-width="1.4" fill="none"/>
<path d="M398.15 324.3L402.15 329.3M398.15 329.3L402.15 324.3" stroke="#6c2ca0" stroke-width="1.4" fill="none"/>
<path d="M423.43 323.4L427.43 328.4M423.43 328.4L427.43 323.4" stroke="#6c2ca0" stroke-width="1.4" fill="none"/>
<path d="M273.75 313.7C277.96 317.2 290.6 329.78 299.03 334.7C307.46 339.62 315.88 340.98 324.31 343.2C332.74 345.42 341.16 346.85 349.59 348C358.02 349.15 366.44 350.05 374.87 350.1C383.3 350.15 391.72 349.43 400.15 348.3C408.58 347.17 421.22 344.13 425.43 343.3" fill="none" stroke="#ffc000" stroke-width="1.7" stroke-linejoin="round" stroke-linecap="round"/>
<rect x="271.05" y="311" width="5.4" height="5.4" fill="#ffc000"/>
<rect x="296.33" y="332" width="5.4" height="5.4" fill="#ffc000"/>
<rect x="321.61" y="340.5" width="5.4" height="5.4" fill="#ffc000"/>
<rect x="346.89" y="345.3" width="5.4" height="5.4" fill="#ffc000"/>
<rect x="372.17" y="347.4" width="5.4" height="5.4" fill="#ffc000"/>
<rect x="397.45" y="345.6" width="5.4" height="5.4" fill="#ffc000"/>
<rect x="422.73" y="340.6" width="5.4" height="5.4" fill="#ffc000"/>
<rect x="314.9" y="219.4" width="111.4" height="48.6" fill="#fff" stroke="#222" stroke-width="1.2"/>
<line x1="317.9" y1="228" x2="335.9" y2="228" stroke="#d01a20" stroke-width="1.1" />
<path d="M326.9 224.1L330.7 228L326.9 231.9L323.1 228Z" fill="#c00000"/>
<text x="342.4" y="230.5" font-size="9.4" font-weight="normal" fill="#ff2020"><tspan font-style="italic">d</tspan><tspan font-size="6.2" dy="1.6">HO</tspan><tspan dy="-1.6"> = 2.2</tspan></text>
<text x="388" y="230.5" font-size="9.4" font-weight="normal" fill="#2323d6"><tspan fill="#2323d6" font-size="10" font-weight="normal" font-style="italic" font-family='"Liberation Serif", "Times New Roman", serif'>ψ</tspan> = 90<tspan font-weight="bold">˚</tspan></text>
<line x1="317.9" y1="238.2" x2="335.9" y2="238.2" stroke="#ffc000" stroke-width="1.1" />
<rect x="324" y="235.3" width="5.8" height="5.8" fill="#fbba35"/>
<text x="342.4" y="240.7" font-size="9.4" font-weight="normal" fill="#ff2020"><tspan font-style="italic">d</tspan><tspan font-size="6.2" dy="1.6">HO</tspan><tspan dy="-1.6"> = 2.2</tspan></text>
<text x="388" y="240.7" font-size="9.4" font-weight="normal" fill="#2323d6"><tspan fill="#2323d6" font-size="10" font-weight="normal" font-style="italic" font-family='"Liberation Serif", "Times New Roman", serif'>ψ</tspan> = 90<tspan font-weight="bold">˚</tspan></text>
<line x1="317.9" y1="249.9" x2="335.9" y2="249.9" stroke="#00b050" stroke-width="1.1" />
<circle cx="326.9" cy="249.9" r="2.7" fill="#0cb052"/>
<text x="342.4" y="252.4" font-size="9.4" font-weight="normal" fill="#ff2020"><tspan font-style="italic">d</tspan><tspan font-size="6.2" dy="1.6">HO</tspan><tspan dy="-1.6"> = 2.7</tspan></text>
<text x="389.7" y="252.4" font-size="9.4" font-weight="normal" fill="#2323d6"><tspan fill="#2323d6" font-size="10" font-weight="normal" font-style="italic" font-family='"Liberation Serif", "Times New Roman", serif'>ψ</tspan> = 150<tspan font-weight="bold">˚</tspan></text>
<line x1="317.9" y1="261.2" x2="335.9" y2="261.2" stroke="#7533ab" stroke-width="1.1" />
<path d="M323.9 258.2L329.9 264.2M323.9 264.2L329.9 258.2" stroke="#6c2ca0" stroke-width="1" fill="none"/>
<text x="342.4" y="263.7" font-size="9.4" font-weight="normal" fill="#ff2020"><tspan font-style="italic">d</tspan><tspan font-size="6.2" dy="1.6">HO</tspan><tspan dy="-1.6"> = 2.7</tspan></text>
<text x="389.7" y="263.7" font-size="9.4" font-weight="normal" fill="#2323d6"><tspan fill="#2323d6" font-size="10" font-weight="normal" font-style="italic" font-family='"Liberation Serif", "Times New Roman", serif'>ψ</tspan> = 150<tspan font-weight="bold">˚</tspan></text>
<path d="M504.9 224.85V387.7 H660.55" fill="none" stroke="#000" stroke-width="1.6" stroke-linejoin="miter"/>
<line x1="504.9" y1="387.7" x2="504.9" y2="390.5" stroke="#000" stroke-width="1.5" />
<text x="504.9" y="402.4" font-size="9.3" text-anchor="middle">0</text>
<line x1="543.62" y1="387.7" x2="543.62" y2="390.5" stroke="#000" stroke-width="1.5" />
<text x="543.62" y="402.4" font-size="9.3" text-anchor="middle">20</text>
<line x1="582.34" y1="387.7" x2="582.34" y2="390.5" stroke="#000" stroke-width="1.5" />
<text x="582.34" y="402.4" font-size="9.3" text-anchor="middle">40</text>
<line x1="621.06" y1="387.7" x2="621.06" y2="390.5" stroke="#000" stroke-width="1.5" />
<text x="621.06" y="402.4" font-size="9.3" text-anchor="middle">60</text>
<line x1="659.78" y1="387.7" x2="659.78" y2="390.5" stroke="#000" stroke-width="1.5" />
<text x="659.78" y="402.4" font-size="9.3" text-anchor="middle">80</text>
<line x1="502.1" y1="225.6" x2="504.9" y2="225.6" stroke="#000" stroke-width="1.5" />
<text x="497" y="228.93" font-size="9.3" text-anchor="end">0</text>
<line x1="502.1" y1="266.12" x2="504.9" y2="266.12" stroke="#000" stroke-width="1.5" />
<text x="497" y="269.45" font-size="9.3" text-anchor="end">-5</text>
<line x1="502.1" y1="306.65" x2="504.9" y2="306.65" stroke="#000" stroke-width="1.5" />
<text x="497" y="309.98" font-size="9.3" text-anchor="end">-10</text>
<line x1="502.1" y1="347.18" x2="504.9" y2="347.18" stroke="#000" stroke-width="1.5" />
<text x="497" y="350.5" font-size="9.3" text-anchor="end">-15</text>
<line x1="502.1" y1="387.7" x2="504.9" y2="387.7" stroke="#000" stroke-width="1.5" />
<text x="497" y="391.03" font-size="9.3" text-anchor="end">-20</text>
<text x="-39.4" y="0" font-size="9.3" transform="translate(472 301.9) rotate(-90)" textLength="78.8" lengthAdjust="spacingAndGlyphs">Interaction energy</text>
<text x="-22.4" y="0" font-size="9.3" transform="translate(483.7 301.3) rotate(-90)" textLength="44.8" lengthAdjust="spacingAndGlyphs">(kcal/mol)</text>
<text x="526.2" y="413.7" font-size="9.3" textLength="100.7" lengthAdjust="spacingAndGlyphs">H-elevation angle (<tspan fill="#000" font-size="10" font-weight="normal" font-style="italic" font-family='"Liberation Serif", "Times New Roman", serif'>θ</tspan>)(˚)</text>
<path d="M504.9 322C508.13 321.9 517.81 321.8 524.26 321.4C530.71 321 537.17 320.4 543.62 319.6C550.07 318.8 556.53 317.85 562.98 316.6C569.43 315.35 575.89 313.83 582.34 312.1C588.79 310.37 595.25 308.28 601.7 306.2C608.15 304.12 614.61 301.97 621.06 299.6C627.51 297.23 633.97 294.67 640.42 292C646.87 289.33 656.55 285 659.78 283.6" fill="none" stroke="#7533ab" stroke-width="1.7" stroke-linejoin="round" stroke-linecap="round"/>
<path d="M502.9 319.5L506.9 324.5M502.9 324.5L506.9 319.5" stroke="#6c2ca0" stroke-width="1.4" fill="none"/>
<path d="M522.26 318.9L526.26 323.9M522.26 323.9L526.26 318.9" stroke="#6c2ca0" stroke-width="1.4" fill="none"/>
<path d="M541.62 317.1L545.62 322.1M541.62 322.1L545.62 317.1" stroke="#6c2ca0" stroke-width="1.4" fill="none"/>
<path d="M560.98 314.1L564.98 319.1M560.98 319.1L564.98 314.1" stroke="#6c2ca0" stroke-width="1.4" fill="none"/>
<path d="M580.34 309.6L584.34 314.6M580.34 314.6L584.34 309.6" stroke="#6c2ca0" stroke-width="1.4" fill="none"/>
<path d="M599.7 303.7L603.7 308.7M599.7 308.7L603.7 303.7" stroke="#6c2ca0" stroke-width="1.4" fill="none"/>
<path d="M619.06 297.1L623.06 302.1M619.06 302.1L623.06 297.1" stroke="#6c2ca0" stroke-width="1.4" fill="none"/>
<path d="M638.42 289.5L642.42 294.5M638.42 294.5L642.42 289.5" stroke="#6c2ca0" stroke-width="1.4" fill="none"/>
<path d="M657.78 281.1L661.78 286.1M657.78 286.1L661.78 281.1" stroke="#6c2ca0" stroke-width="1.4" fill="none"/>
<path d="M504.9 344.8C508.13 344.73 517.81 344.8 524.26 344.4C530.71 344 537.17 343.38 543.62 342.4C550.07 341.42 556.53 340.05 562.98 338.5C569.43 336.95 575.89 335.17 582.34 333.1C588.79 331.03 595.25 328.63 601.7 326.1C608.15 323.57 614.61 320.78 621.06 317.9C627.51 315.02 633.97 311.93 640.42 308.8C646.87 305.67 656.55 300.72 659.78 299.1" fill="none" stroke="#00b050" stroke-width="1.7" stroke-linejoin="round" stroke-linecap="round"/>
<circle cx="504.9" cy="344.8" r="2.55" fill="#0cb052"/>
<circle cx="524.26" cy="344.4" r="2.55" fill="#0cb052"/>
<circle cx="543.62" cy="342.4" r="2.55" fill="#0cb052"/>
<circle cx="562.98" cy="338.5" r="2.55" fill="#0cb052"/>
<circle cx="582.34" cy="333.1" r="2.55" fill="#0cb052"/>
<circle cx="601.7" cy="326.1" r="2.55" fill="#0cb052"/>
<circle cx="621.06" cy="317.9" r="2.55" fill="#0cb052"/>
<circle cx="640.42" cy="308.8" r="2.55" fill="#0cb052"/>
<circle cx="659.78" cy="299.1" r="2.55" fill="#0cb052"/>
<path d="M504.9 349.2C508.13 349.12 517.81 349.2 524.26 348.7C530.71 348.2 537.17 347.25 543.62 346.2C550.07 345.15 556.53 344.13 562.98 342.4C569.43 340.67 575.89 338.45 582.34 335.8C588.79 333.15 595.25 329.63 601.7 326.5C608.15 323.37 614.61 321.2 621.06 317C627.51 312.8 633.97 308.22 640.42 301.3C646.87 294.38 656.55 279.8 659.78 275.5" fill="none" stroke="#ffc000" stroke-width="1.7" stroke-linejoin="round" stroke-linecap="round"/>
<rect x="502.2" y="346.5" width="5.4" height="5.4" fill="#ffc000"/>
<rect x="521.56" y="346" width="5.4" height="5.4" fill="#ffc000"/>
<rect x="540.92" y="343.5" width="5.4" height="5.4" fill="#ffc000"/>
<rect x="560.28" y="339.7" width="5.4" height="5.4" fill="#ffc000"/>
<rect x="579.64" y="333.1" width="5.4" height="5.4" fill="#ffc000"/>
<rect x="599" y="323.8" width="5.4" height="5.4" fill="#ffc000"/>
<rect x="618.36" y="314.3" width="5.4" height="5.4" fill="#ffc000"/>
<rect x="637.72" y="298.6" width="5.4" height="5.4" fill="#ffc000"/>
<rect x="657.08" y="272.8" width="5.4" height="5.4" fill="#ffc000"/>
<path d="M504.9 347.8C508.13 347.75 517.81 347.92 524.26 347.5C530.71 347.08 537.17 346.2 543.62 345.3C550.07 344.4 556.53 343.42 562.98 342.1C569.43 340.78 575.89 339.18 582.34 337.4C588.79 335.62 595.25 333.58 601.7 331.4C608.15 329.22 614.61 326.88 621.06 324.3C627.51 321.72 633.97 319.02 640.42 315.9C646.87 312.78 656.55 307.32 659.78 305.6" fill="none" stroke="#d01a20" stroke-width="1.7" stroke-linejoin="round" stroke-linecap="round"/>
<path d="M504.9 344.8L507.8 347.8L504.9 350.8L502 347.8Z" fill="#c00000"/>
<path d="M524.26 344.5L527.16 347.5L524.26 350.5L521.36 347.5Z" fill="#c00000"/>
<path d="M543.62 342.3L546.52 345.3L543.62 348.3L540.72 345.3Z" fill="#c00000"/>
<path d="M562.98 339.1L565.88 342.1L562.98 345.1L560.08 342.1Z" fill="#c00000"/>
<path d="M582.34 334.4L585.24 337.4L582.34 340.4L579.44 337.4Z" fill="#c00000"/>
<path d="M601.7 328.4L604.6 331.4L601.7 334.4L598.8 331.4Z" fill="#c00000"/>
<path d="M621.06 321.3L623.96 324.3L621.06 327.3L618.16 324.3Z" fill="#c00000"/>
<path d="M640.42 312.9L643.32 315.9L640.42 318.9L637.52 315.9Z" fill="#c00000"/>
<path d="M659.78 302.6L662.68 305.6L659.78 308.6L656.88 305.6Z" fill="#c00000"/>
<rect x="525.3" y="219.4" width="158.5" height="48.3" fill="#fff" stroke="#222" stroke-width="1.2"/>
<line x1="531.1" y1="228" x2="549.7" y2="228" stroke="#d01a20" stroke-width="1.1" />
<path d="M540.4 224.1L544.2 228L540.4 231.9L536.6 228Z" fill="#c00000"/>
<text x="557" y="230.5" font-size="9.4" font-weight="normal" fill="#ff2020" stroke="#ff2020" stroke-width="0.3"><tspan font-style="italic">d</tspan><tspan font-size="6.4" dy="1.6">HO</tspan><tspan dy="-1.6"> = 2.2</tspan></text>
<text x="601.8" y="230.5" font-size="9.4" font-weight="normal" fill="#2323d6" stroke="#2323d6" stroke-width="0.3"><tspan font-size="10" font-weight="normal" font-style="italic" font-family='"Liberation Serif", "Times New Roman", serif' stroke="none">ψ</tspan> = 90<tspan font-weight="bold">˚</tspan></text>
<text x="637.7" y="230.5" font-size="9.4" font-weight="normal" fill="#f0a0a0"><tspan fill="#f0a0a0" font-size="10" font-weight="normal" font-style="italic" font-family='"Liberation Serif", "Times New Roman", serif'>γ</tspan> = 150<tspan font-weight="bold">˚</tspan></text>
<line x1="531.1" y1="238.2" x2="549.7" y2="238.2" stroke="#ffc000" stroke-width="1.1" />
<rect x="537.5" y="235.3" width="5.8" height="5.8" fill="#fbba35"/>
<text x="557" y="240.7" font-size="9.4" font-weight="normal" fill="#ff2020" stroke="#ff2020" stroke-width="0.3"><tspan font-style="italic">d</tspan><tspan font-size="6.4" dy="1.6">HO</tspan><tspan dy="-1.6"> = 2.7</tspan></text>
<text x="603.5" y="240.7" font-size="9.4" font-weight="normal" fill="#2323d6" stroke="#2323d6" stroke-width="0.3"><tspan font-size="10" font-weight="normal" font-style="italic" font-family='"Liberation Serif", "Times New Roman", serif' stroke="none">ψ</tspan> = 90<tspan font-weight="bold">˚</tspan></text>
<text x="640" y="240.7" font-size="9.4" font-weight="normal" fill="#f0a0a0"><tspan fill="#f0a0a0" font-size="10" font-weight="normal" font-style="italic" font-family='"Liberation Serif", "Times New Roman", serif'>γ</tspan> = 150<tspan font-weight="bold">˚</tspan></text>
<line x1="531.1" y1="249.9" x2="549.7" y2="249.9" stroke="#00b050" stroke-width="1.1" />
<circle cx="540.4" cy="249.9" r="2.7" fill="#0cb052"/>
<text x="557" y="252.4" font-size="9.4" font-weight="normal" fill="#ff2020" stroke="#ff2020" stroke-width="0.3"><tspan font-style="italic">d</tspan><tspan font-size="6.4" dy="1.6">HO</tspan><tspan dy="-1.6"> = 2.2</tspan></text>
<text x="604.4" y="252.4" font-size="9.4" font-weight="normal" fill="#2323d6" stroke="#2323d6" stroke-width="0.3"><tspan font-size="10" font-weight="normal" font-style="italic" font-family='"Liberation Serif", "Times New Roman", serif' stroke="none">ψ</tspan> = 150<tspan font-weight="bold">˚</tspan></text>
<text x="645.2" y="252.4" font-size="9.4" font-weight="normal" fill="#f0a0a0"><tspan fill="#f0a0a0" font-size="10" font-weight="normal" font-style="italic" font-family='"Liberation Serif", "Times New Roman", serif'>γ</tspan> = 150<tspan font-weight="bold">˚</tspan></text>
<line x1="531.1" y1="261" x2="549.7" y2="261" stroke="#7533ab" stroke-width="1.1" />
<path d="M537.4 258L543.4 264M537.4 264L543.4 258" stroke="#6c2ca0" stroke-width="1" fill="none"/>
<text x="557" y="263.5" font-size="9.4" font-weight="normal" fill="#ff2020" stroke="#ff2020" stroke-width="0.3"><tspan font-style="italic">d</tspan><tspan font-size="6.4" dy="1.6">HO</tspan><tspan dy="-1.6"> = 2.7</tspan></text>
<text x="604.4" y="263.5" font-size="9.4" font-weight="normal" fill="#2323d6" stroke="#2323d6" stroke-width="0.3"><tspan font-size="10" font-weight="normal" font-style="italic" font-family='"Liberation Serif", "Times New Roman", serif' stroke="none">ψ</tspan> = 150<tspan font-weight="bold">˚</tspan></text>
<text x="645.2" y="263.5" font-size="9.4" font-weight="normal" fill="#f0a0a0"><tspan fill="#f0a0a0" font-size="10" font-weight="normal" font-style="italic" font-family='"Liberation Serif", "Times New Roman", serif'>γ</tspan> = 150<tspan font-weight="bold">˚</tspan></text>
</svg>
</body></html>
